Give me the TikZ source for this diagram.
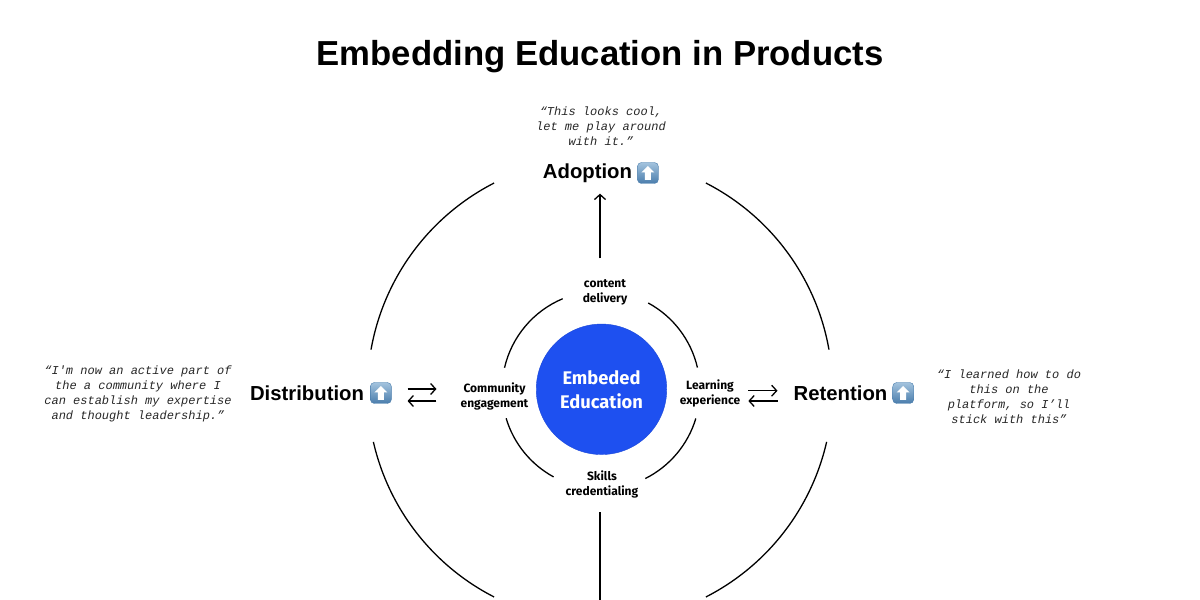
\documentclass[tikz,border=0pt]{standalone}
\usepackage{fontspec}
\usetikzlibrary{positioning,arrows.meta}
\setmainfont{Liberation Sans}
\newfontfamily\labelfont{Fira Sans}
\newfontfamily\quotefont{Liberation Mono}

\definecolor{hubblue}{HTML}{1E50F0}
\definecolor{signtop}{HTML}{A3C3DE}
\definecolor{signlow}{HTML}{4A7DAC}

\tikzset{
	headline/.style={inner sep=0, font=\fontsize{34.7}{40}\selectfont\bfseries},
	outcome/.style={inner sep=0, font=\fontsize{20.3}{24}\selectfont\bfseries},
	saying/.style={inner sep=0, align=center, text=black!85, font=\fontsize{12}{14.9}\selectfont\quotefont\itshape},
	facet/.style={inner sep=0, align=center, font=\fontsize{12}{15}\selectfont\labelfont\bfseries},
	upsign/.style={inner sep=0, minimum size=21, rounded corners=4, draw=signlow, top color=signtop, bottom color=signlow,
		path picture={\fill[white, sharp corners, shift={(path picture bounding box.center)}]
			(0,7) -- (6.5,0.5) -- (3,0.5) -- (3,-7) -- (-3,-7) -- (-3,0.5) -- (-6.5,0.5) -- cycle;}},
	ring/.style={line width=1.3},
	flow/.style={line width=1.3, -{Straight Barb[length=5,width=11]}}
}

\begin{document}
\begin{tikzpicture}[x=1pt, y=1pt]

	\useasboundingbox (0, 0) rectangle (1200, 600);

	\node[headline] (title) at (600, 543.5) {Embedding Education in Products};

	\node[shape=circle, minimum size=130.5, inner sep=0, fill=hubblue, draw=hubblue!90!black, text=white,
		align=center, font=\fontsize{18.3}{24}\selectfont\labelfont\bfseries] (hub) at (601.5, 210.7) {Embeded\\Education};

	\coordinate (axis) at (600, 210);
	\coordinate (core) at (601, 210);
	\coordinate (pageend) at (600, 0);

	\node[facet] (delivery)  at (605, 308) {content\\delivery};
	\node[facet] (skills)    at (602, 115.5) {Skills\\credentialing};
	\node[facet] (community) at (494.5, 203.5) {Community\\engagement};
	\node[facet] (learning)  at (710, 206.5) {Learning\\experience};

	\node[outcome] (adoption)     at (587.5, 427) {Adoption};
	\node[outcome] (distribution) at (307, 207)   {Distribution};
	\node[outcome] (retention)    at (840.5, 207) {Retention};

	\node[upsign, right=5 of adoption]     (adoptionsign) {};
	\node[upsign, right=6 of distribution] (distsign) {};
	\node[upsign, right=5 of retention]    (retsign) {};

	\node[saying] (adoptionsay) at (601, 474)  {“This looks cool,\\let me play around\\with it.”};
	\node[saying] (distsay)     at (138, 206)  {“I'm now an active part of\\the a community where I\\can establish my expertise\\and thought leadership.”};
	\node[saying] (retsay)      at (1009, 203) {“I learned how to do\\this on the\\platform, so I’ll\\stick with this”};

	\foreach \from/\to in {117.1/170, 192.9/242.9, 297.1/347.1, 10/62.9}
		\draw[ring] ([shift={(\from:232.5)}]axis) arc[start angle=\from, end angle=\to, radius=232.5];
	\foreach \from/\to in {112.8/167, 196.6/241.4, 296.6/343.3, 13.1/61.5}
		\draw[ring] ([shift={(\from:99)}]core) arc[start angle=\from, end angle=\to, radius=99];

	\draw[flow] ([yshift=20.5]delivery.north -| axis) -- ([yshift=-11]adoption.south -| axis);
	\draw[line width=1.5] ([yshift=-14]skills.south -| axis) -- (pageend);

	\draw[flow] ([shift={(16,4)}]distsign.east) -- ([shift={(-24,7.5)}]community.west);
	\draw[flow] ([shift={(-24,-4.5)}]community.west) -- ([shift={(16,-8)}]distsign.east);
	\draw[flow] ([shift={(8,2.8)}]learning.east) -- ([shift={(-16,2.3)}]retention.west);
	\draw[flow] ([shift={(-16,-8)}]retention.west) -- ([shift={(8,-7.5)}]learning.east);

\end{tikzpicture}
\end{document}
